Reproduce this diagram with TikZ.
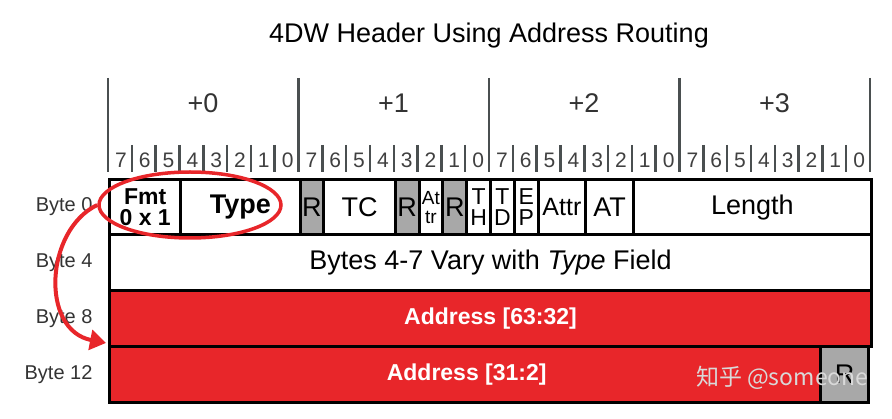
\documentclass[tikz,border=0pt]{standalone}
\usepackage{fontspec}
\usetikzlibrary{shapes.geometric,arrows.meta}
\setmainfont{Liberation Sans}
\newfontfamily\cjk{Noto Sans CJK SC}
\definecolor{pcired}{HTML}{E8262A}
\definecolor{rgray}{HTML}{A8A8A8}
\definecolor{tick}{HTML}{4A4F50}
\begin{document}
\begin{tikzpicture}[x=1pt,y=-1pt,
  fld/.style={draw=black,line width=3pt,inner sep=0pt,font=\fontsize{27}{27}\selectfont},
  bytelab/.style={anchor=east,font=\fontsize{20}{20}\selectfont,text=black!80},
  bitlab/.style={font=\fontsize{21}{21}\selectfont,text=black!75}]
\useasboundingbox (0,0) rectangle (892,419);
\def\bw{23.8125}
\node (title) at (489,36) {\fontsize{27}{27}\selectfont 4DW Header Using Address Routing};
\foreach \b/\lab in {0/+0,1/+1,2/+2,3/+3}{
  \draw[tick,line width=2.5pt] (108+\b*190.5,78) -- (108+\b*190.5,172);
  \node[font=\fontsize{27}{27}\selectfont,text=black!80] (p\b) at (108+\b*190.5+95,103) {\lab};
}
\draw[tick,line width=2.5pt] (870,78) -- (870,172);
\foreach \i in {0,...,31}{
  \pgfmathtruncatemacro\d{7-mod(\i,8)}
  \node[bitlab] (bit\i) at (108+\i*\bw+\bw/2+1,160) {\d};
  \draw[tick,line width=2.5pt] (108+\i*\bw+\bw,145) -- (108+\i*\bw+\bw,172);
}
\newcommand\fieldbox[6]{% name, start bit, end bit(excl), fill, font, text
  \node[fld,fill=#4,minimum width={(#3-#2)*\bw},minimum height=56,anchor=north west,align=center,font=#5] (#1) at ({108+#2*\bw},178) {#6};}
\fieldbox{fmt}{0}{3}{white}{\fontsize{23}{21}\selectfont\bfseries}{Fmt\\0 x 1}
\fieldbox{type}{3}{8}{white}{\fontsize{27}{27}\selectfont\bfseries}{Type}
\fieldbox{r1}{8}{9}{rgray}{\fontsize{27}{27}\selectfont}{R}
\fieldbox{tc}{9}{12}{white}{\fontsize{27}{27}\selectfont}{TC}
\fieldbox{r2}{12}{13}{rgray}{\fontsize{27}{27}\selectfont}{R}
\fieldbox{attra}{13}{14}{white}{\fontsize{19}{19}\selectfont}{At\\tr}
\fieldbox{r3}{14}{15}{rgray}{\fontsize{27}{27}\selectfont}{R}
\fieldbox{th}{15}{16}{white}{\fontsize{23}{21}\selectfont}{T\\H}
\fieldbox{td}{16}{17}{white}{\fontsize{23}{21}\selectfont}{T\\D}
\fieldbox{ep}{17}{18}{white}{\fontsize{23}{21}\selectfont}{E\\P}
\fieldbox{attr}{18}{20}{white}{\fontsize{25}{25}\selectfont}{Attr}
\fieldbox{at}{20}{22}{white}{\fontsize{27}{27}\selectfont}{AT}
\fieldbox{len}{22}{32}{white}{\fontsize{27}{27}\selectfont}{Length}
\node[fld,fill=white,minimum width=762,minimum height=56,anchor=north west] (row1) at (108,233) {Bytes 4-7 Vary with \textit{Type} Field};
\node[fld,fill=pcired,text=white,minimum width=762,minimum height=56,anchor=north west,font=\fontsize{23}{23}\selectfont\bfseries] (row2) at (108,289) {Address [63:32]};
\node[fld,fill=pcired,text=white,minimum width={30*\bw},minimum height=56,anchor=north west,font=\fontsize{23}{23}\selectfont\bfseries] (row3) at (108,345) {Address [31:2]};
\node[fld,fill=rgray,minimum width={\bw*2},minimum height=56,anchor=north east] (r4) at (870,345) {R};
\node[bytelab] (b0) at (96,207) {Byte 0};
\node[bytelab] (b4) at (96,263) {Byte 4};
\node[bytelab] (b8) at (96,319) {Byte 8};
\node[bytelab] (b12) at (96,375) {Byte 12};
\node[draw=pcired,line width=3.5pt,ellipse,minimum width=182,minimum height=66] (ell) at (190,205) {};
\coordinate (tip) at (106,343);
\draw[pcired,line width=4pt,-{Triangle[length=16pt,width=20pt]}] (ell.west) .. controls (45,230) and (40,330) .. (tip);
\node[text=white!85!black,font=\cjk\fontsize{23}{23}\selectfont,anchor=east] (wm) at (872,378) {知乎 @someone};
\end{tikzpicture}
\end{document}
